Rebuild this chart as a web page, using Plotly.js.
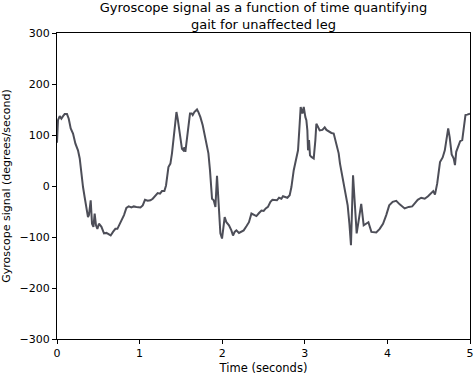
<!DOCTYPE html>
<html>
<head>
<meta charset="utf-8">
<script src="https://cdn.plot.ly/plotly-3.0.1.min.js"></script>
<style>html,body{margin:0;padding:0;background:#fff}#chart{width:474px;height:375px}</style>
</head>
<body>
<div id="chart"></div>
<script>
const timeSeconds = [0,0.012,0.033,0.053,0.073,0.093,0.121,0.142,0.166,0.194,0.223,0.254,0.275,0.295,0.315,0.335,0.356,0.375,0.387,0.408,0.424,0.441,0.456,0.472,0.489,0.508,0.538,0.569,0.598,0.626,0.650,0.678,0.707,0.731,0.759,0.787,0.811,0.840,0.868,0.901,0.929,0.961,0.989,1.010,1.038,1.065,1.098,1.131,1.159,1.186,1.219,1.247,1.271,1.300,1.320,1.349,1.373,1.392,1.413,1.429,1.446,1.461,1.482,1.494,1.513,1.530,1.542,1.554,1.574,1.591,1.610,1.631,1.643,1.663,1.695,1.712,1.736,1.764,1.785,1.812,1.833,1.852,1.864,1.877,1.897,1.918,1.937,1.958,1.978,1.998,2.010,2.030,2.051,2.082,2.111,2.131,2.151,2.172,2.203,2.232,2.260,2.293,2.324,2.354,2.381,2.414,2.446,2.475,2.502,2.527,2.554,2.584,2.608,2.636,2.663,2.688,2.717,2.736,2.765,2.789,2.817,2.838,2.866,2.890,2.918,2.938,2.950,2.971,2.987,3.007,3.019,3.031,3.039,3.051,3.063,3.080,3.108,3.128,3.140,3.160,3.180,3.213,3.241,3.262,3.293,3.322,3.350,3.383,3.410,3.426,3.459,3.492,3.519,3.540,3.559,3.584,3.613,3.628,3.653,3.683,3.713,3.741,3.770,3.806,3.865,3.907,3.947,3.986,4.022,4.064,4.107,4.149,4.209,4.258,4.300,4.331,4.367,4.409,4.452,4.492,4.533,4.555,4.576,4.603,4.637,4.669,4.695,4.724,4.736,4.754,4.778,4.803,4.818,4.833,4.857,4.881,4.906,4.924,4.945,4.966,5.0];
const gyroSignal = [85,129,137,132,137,141,141,132,113,103,83,70,54,24,-2,-22,-41,-61,-57,-28,-74,-80,-54,-77,-84,-74,-80,-93,-92,-95,-97,-90,-84,-84,-74,-67,-57,-43,-40,-42,-40,-41,-41,-42,-38,-27,-29,-28,-25,-20,-14,-15,-10,-10,1,37,44,64,96,129,145,132,109,96,73,70,76,67,96,122,142,142,139,145,150,145,135,119,103,80,64,31,-2,-25,-28,-41,20,-48,-93,-103,-87,-61,-71,-77,-87,-97,-90,-87,-92,-90,-87,-79,-71,-54,-56,-59,-53,-48,-49,-44,-41,-31,-27,-28,-28,-23,-25,-20,-22,-23,-18,-2,31,47,70,122,155,142,155,135,129,109,70,90,60,57,54,90,122,116,109,110,115,110,106,104,103,83,64,44,15,-12,-38,-74,-116,21,-48,-93,-67,-35,-77,-74,-71,-90,-91,-84,-74,-57,-38,-31,-29,-36,-44,-41,-40,-34,-27,-23,-25,-20,-12,-10,-17,5,47,56,70,106,113,96,62,54,41,67,78,88,90,110,139,140,142];
const xTickVals = [0,1,2,3,4,5];
const yTickVals = [-300,-200,-100,0,100,200,300];
const titleText = 'Gyroscope signal as a function of time quantifying<br>gait for unaffected leg';
const xTitle = 'Time (seconds)';
const yTitle = 'Gyroscope signal (degrees/second)';

const font = {family: 'DejaVu Sans, sans-serif', size: 11, color: '#000'};
const axisBase = {
  showgrid: false, zeroline: false, showline: true, linecolor: '#000', linewidth: 1,
  mirror: true, ticks: 'outside', ticklen: 4, tickcolor: '#000', tickwidth: 1,
  tickfont: font, automargin: false
};
Plotly.newPlot('chart', [{
  x: timeSeconds, y: gyroSignal, type: 'scatter', mode: 'lines',
  line: {color: '#4d4e58', width: 2}, hoverinfo: 'skip'
}], {
  width: 474, height: 375,
  margin: {l: 57, r: 4, t: 33, b: 36},
  paper_bgcolor: '#fff', plot_bgcolor: '#fff',
  showlegend: false, font: font,
  title: {text: titleText, font: {family: 'DejaVu Sans, sans-serif', size: 13, color: '#000'},
    x: 0.5, xref: 'paper', xanchor: 'center', y: 1, yref: 'paper', yanchor: 'bottom', pad: {b: 21}},
  xaxis: Object.assign({}, axisBase, {range: [0, 5], tickvals: xTickVals,
    title: {text: xTitle, font: {family: 'DejaVu Sans, sans-serif', size: 11.5, color: '#000'}, standoff: 5}}),
  yaxis: Object.assign({}, axisBase, {range: [-300, 300], tickvals: yTickVals,
    title: {text: yTitle, font: font, standoff: 6}})
}, {staticPlot: true});
</script>
</body>
</html>
